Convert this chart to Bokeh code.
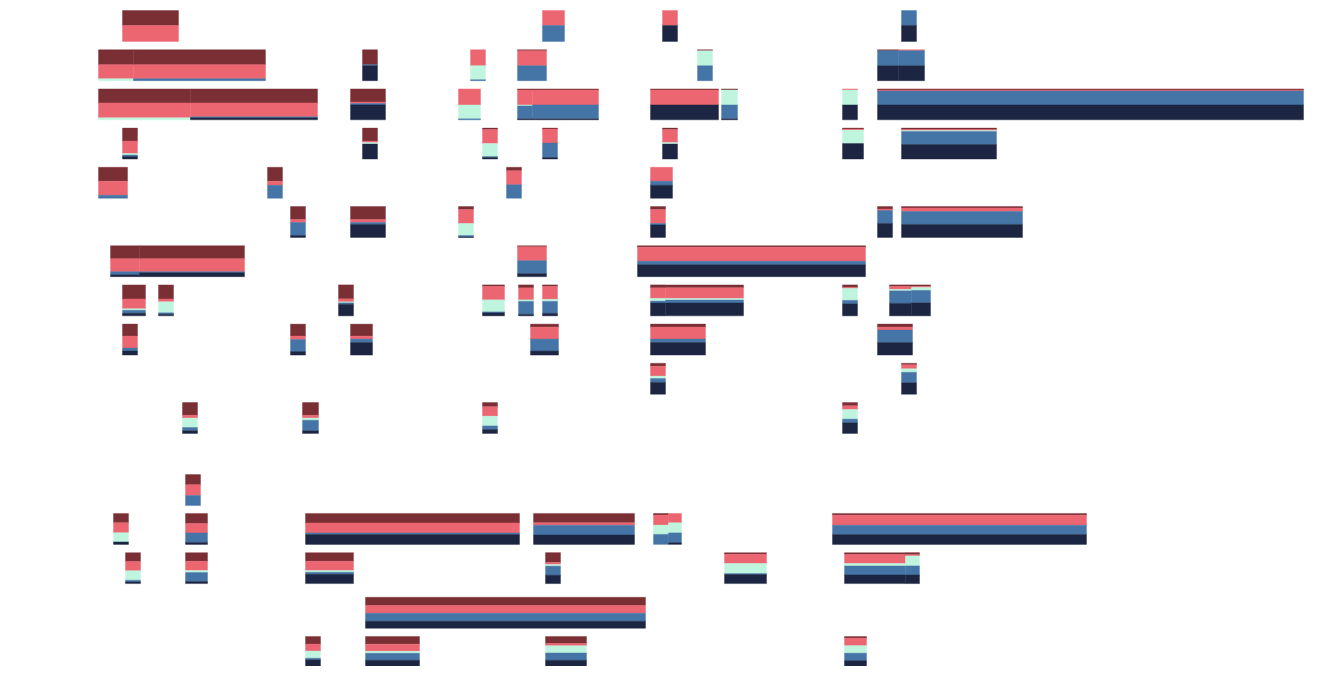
from bokeh.plotting import figure
from bokeh.models import ColumnDataSource, Range1d
from bokeh.embed import file_html
from bokeh.resources import INLINE

# Series (stack order top -> bottom)
SERIES = ["Dark red", "Pink", "Mint", "Blue", "Navy"]
COLORS = ["#7a2f35", "#ec6672", "#bff5de", "#4574a6", "#1c2541"]

# Lane (row) positions
LANES = [0, 1, 2, 3, 4, 5, 6, 7, 8, 9, 10, 11.84, 12.83, 13.83, 14.97, 15.97]

# Blocks: row, start, end, and the five stacked values
ROW = [0, 0, 0, 0,
       1, 1, 1, 1, 1, 1, 1, 1,
       2, 2, 2, 2, 2, 2, 2, 2, 2, 2,
       3, 3, 3, 3, 3, 3, 3,
       4, 4, 4, 4,
       5, 5, 5, 5, 5, 5,
       6, 6, 6, 6,
       7, 7, 7, 7, 7, 7, 7, 7, 7, 7, 7,
       8, 8, 8, 8, 8, 8,
       9, 9,
       10, 10, 10, 10,
       11,
       12, 12, 12, 12, 12, 12, 12,
       13, 13, 13, 13, 13, 13, 13,
       14,
       15, 15, 15, 15]
X0 = [122, 542, 662, 901,
      98, 133, 362, 470, 517, 697, 877, 898,
      98, 190, 350, 458, 517, 532, 650, 721, 842, 877,
      122, 362, 482, 542, 662, 842, 901,
      98, 267, 506, 650,
      290, 350, 458, 650, 877, 901,
      110, 139, 517, 637,
      122, 158, 338, 482, 518, 542, 650, 665, 842, 889, 911,
      122, 290, 350, 530, 650, 877,
      650, 901,
      182, 302, 482, 842,
      185,
      113, 185, 305, 533, 653, 668, 832,
      125, 185, 305, 545, 724, 844, 905,
      365,
      305, 365, 545, 844]
X1 = [178, 564, 677, 916,
      133, 265, 377, 485, 546, 712, 898, 924,
      190, 317, 385, 480, 532, 598, 718, 737, 857, 1303,
      137, 377, 497, 557, 677, 863, 996,
      127, 282, 521, 672,
      305, 385, 473, 665, 892, 1022,
      139, 244, 546, 865,
      145, 173, 353, 504, 533, 557, 665, 743, 857, 911, 930,
      137, 305, 372, 558, 705, 912,
      665, 916,
      197, 318, 497, 857,
      200,
      128, 207, 519, 634, 668, 681, 1086,
      140, 207, 353, 560, 766, 905, 919,
      645,
      320, 419, 586, 866]
DARK = [15, 0, 0, 0,
        15, 15, 15, 0, 1, 1, 1, 0,
        14, 14, 13, 0, 1, 1, 1, 1, 0, 1,
        13, 13, 1.5, 1, 1.5, 1, 1.5,
        14, 14, 3.5, 0,
        13, 13, 3, 3, 2.5, 1.5,
        13, 13, 1, 1.5,
        14, 14, 14, 1.5, 3, 1.5, 3, 3, 2.5, 1.5, 1.5,
        12, 12, 12, 3, 3, 3,
        3, 1.5,
        13, 13, 4.3, 3.3,
        10,
        9.4, 10, 9.5, 9.4, 1.7, 0, 1.7,
        8.7, 8.7, 8.7, 9.7, 1.7, 2, 2,
        8.3,
        7.7, 7.7, 7, 1.7]
PINK = [16, 15, 15, 0,
        14, 14, 0, 16, 15, 0, 0, 1,
        15, 14, 1.5, 16, 15, 15, 15, 0, 1, 1,
        12.5, 1.5, 14, 14, 13, 1, 1,
        14, 4, 14, 14,
        3, 3, 14, 14, 1.5, 3.5,
        13, 13, 14, 14,
        10, 3, 3, 13.5, 12, 13, 10.7, 10.7, 1, 3, 1,
        12, 3.5, 3, 12, 12, 3,
        10, 4,
        2.7, 2.7, 9.7, 3.7,
        10.7,
        10, 9.5, 10, 2.4, 10, 9.3, 10,
        9.3, 9.3, 9.3, 2, 9.3, 9, 1.3,
        7.7,
        7, 7.3, 2.3, 7.7]
MINT = [0, 0, 0, 0,
        2, 0, 0, 14, 0, 15, 0, 0,
        2, 0, 0, 14, 1, 0, 0, 15, 15, 0,
        1.5, 1.5, 13, 0, 1.5, 13.5, 1,
        0, 0, 0, 0,
        0, 0, 12, 0, 0, 0,
        0, 0, 0, 0,
        1.5, 11, 1, 12, 1.5, 2, 2.7, 1.7, 12, 1.5, 3,
        0, 0, 0, 0, 0, 0,
        2.5, 3.5,
        9.7, 2.3, 10, 9.7,
        0,
        9, 0, 0, 0, 9.3, 10, 0,
        9.3, 2, 1.7, 1.7, 10, 2.3, 10,
        0,
        7.3, 2, 7.3, 7.7]
BLUE = [0, 16, 0, 15,
        0, 2, 1, 1, 15, 15, 15, 15,
        0, 1, 1.5, 1, 13, 14, 0, 14, 0, 14,
        1.5, 0, 1, 14.5, 0, 0, 13,
        3, 13, 13.5, 4,
        13, 2, 1.5, 1.5, 13, 13,
        3, 1, 13, 3.5,
        3, 1.5, 1.5, 1, 13, 12, 2, 3, 3.5, 12.5, 12.5,
        3, 12, 3.5, 12, 3.5, 12.5,
        4, 10.5,
        3.3, 10.7, 3.7, 3.7,
        10,
        0, 9.5, 1.7, 9.7, 10, 9.7, 9.3,
        1.7, 9, 2, 9, 1, 9, 9,
        8,
        1.7, 7, 7.3, 7.7]
NAVY = [0, 0, 16, 16,
        0, 0, 15, 0, 0, 0, 15, 15,
        0, 2, 15, 0, 1, 1, 15, 1, 15, 15,
        2.5, 15, 1.5, 1.5, 15, 15.5, 14.5,
        0, 0, 0, 13,
        2, 13, 0.5, 12.5, 14, 13,
        2, 4, 3, 12,
        2.5, 1.5, 11.5, 3, 1.5, 2.5, 13, 13, 12, 12.5, 13,
        4, 3.5, 12.5, 4, 12.5, 12.5,
        12, 11.5,
        2.7, 2.7, 4, 10.7,
        0,
        2.5, 2, 9.8, 9.4, 0, 1.7, 9.7,
        1.7, 2, 9.3, 8.3, 9, 8.7, 8.7,
        7,
        7.7, 7.3, 7.3, 7]

LANE_FILL = 0.79  # share of a lane taken by a block

lefts, rights, tops, bottoms, colors = [], [], [], [], []
for i in range(len(ROW)):
    vals = [DARK[i], PINK[i], MINT[i], BLUE[i], NAVY[i]]
    total = sum(vals)
    base = LANES[ROW[i]]
    cum = 0.0
    for k, v in enumerate(vals):
        if v <= 0:
            continue
        t = base + LANE_FILL * cum / total
        cum += v
        b = base + LANE_FILL * cum / total
        lefts.append(X0[i])
        rights.append(X1[i])
        tops.append(t)
        bottoms.append(b)
        colors.append(COLORS[k])

src = ColumnDataSource(dict(left=lefts, right=rights, top=tops, bottom=bottoms, color=colors))

p = figure(width=1324, height=666, output_backend="svg", toolbar_location=None,
           x_range=Range1d(0, 1324), y_range=Range1d(16.735, -0.255),
           min_border=0, min_border_left=0, min_border_right=0,
           min_border_top=0, min_border_bottom=0)
p.quad(left="left", right="right", top="top", bottom="bottom", fill_color="color",
       fill_alpha=1.0, line_color="color", line_width=0.4, source=src)
p.axis.visible = False
p.grid.visible = False
p.outline_line_color = None
p.background_fill_color = "white"
p.border_fill_color = "white"

open("out.html", "w").write(file_html(p, INLINE))
